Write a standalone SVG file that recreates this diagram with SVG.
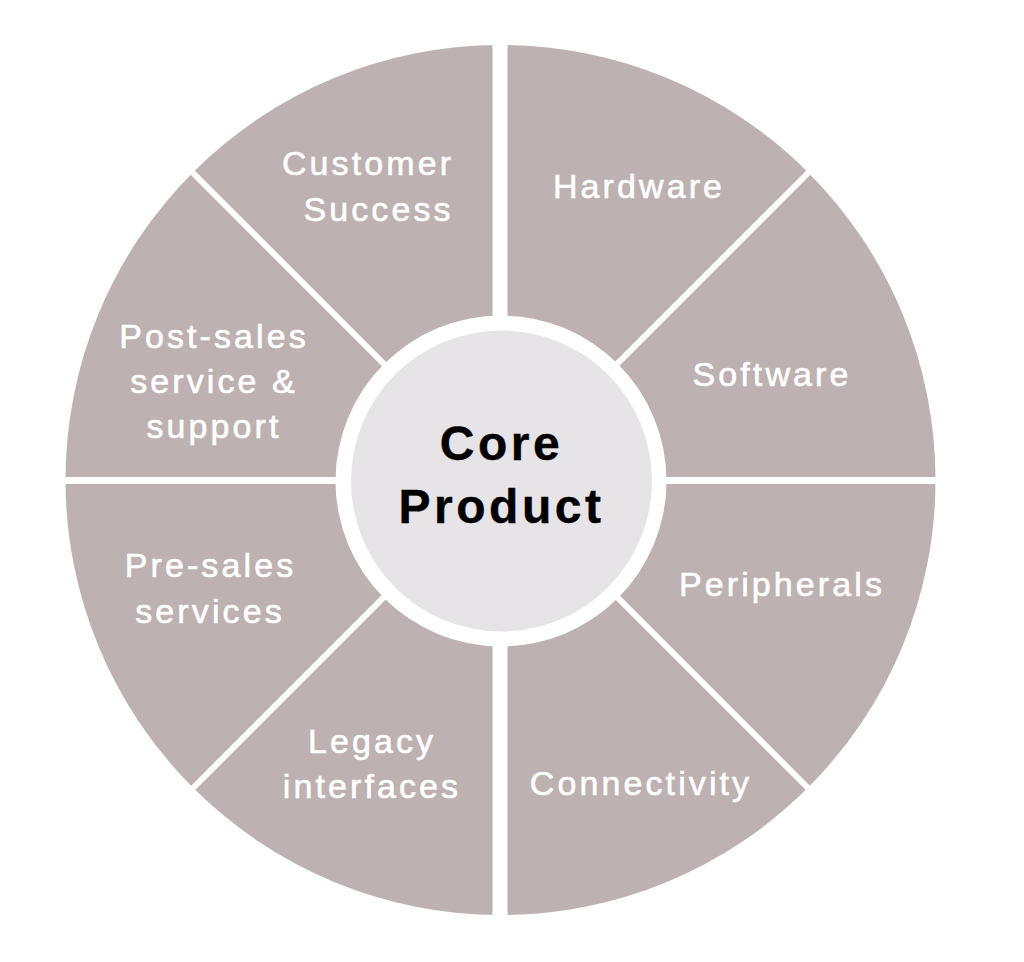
<svg xmlns="http://www.w3.org/2000/svg" width="1024" height="962" viewBox="0 0 1024 962">
<style>
.wedge{fill:#bdb1b1;}
.lbl{font-family:"Liberation Sans",Arial,sans-serif;font-size:34px;fill:#ffffff;stroke:#ffffff;stroke-width:0.6px;letter-spacing:3.1px;text-anchor:middle;}
.core{font-family:"Liberation Sans",Arial,sans-serif;font-size:48px;font-weight:bold;fill:#000000;stroke:#000000;stroke-width:0.4px;letter-spacing:3.5px;text-anchor:middle;}
.sep{stroke:#ffffff;fill:none;}
</style>
<rect width="1024" height="962" fill="#ffffff"/>
<g id="hardware">
<path class="wedge" d="M500.5,480 L500.5,45 A435,435 0 0 1 808.1,172.4 Z"/>
<text class="lbl" x="639" y="198">Hardware</text>
</g>
<g id="software">
<path class="wedge" d="M500.5,480 L808.1,172.4 A435,435 0 0 1 935.5,480 Z"/>
<text class="lbl" x="772" y="386">Software</text>
</g>
<g id="peripherals">
<path class="wedge" d="M500.5,480 L935.5,480 A435,435 0 0 1 808.1,787.6 Z"/>
<text class="lbl" x="782" y="596">Peripherals</text>
</g>
<g id="connectivity">
<path class="wedge" d="M500.5,480 L808.1,787.6 A435,435 0 0 1 500.5,915 Z"/>
<text class="lbl" x="641" y="795">Connectivity</text>
</g>
<g id="legacy-interfaces">
<path class="wedge" d="M500.5,480 L500.5,915 A435,435 0 0 1 192.9,787.6 Z"/>
<text class="lbl" x="372" y="753">Legacy</text>
<text class="lbl" x="372" y="798">interfaces</text>
</g>
<g id="pre-sales-services">
<path class="wedge" d="M500.5,480 L192.9,787.6 A435,435 0 0 1 65.5,480 Z"/>
<text class="lbl" x="210.5" y="577">Pre-sales</text>
<text class="lbl" x="210" y="623">services</text>
</g>
<g id="post-sales-service-support">
<path class="wedge" d="M500.5,480 L65.5,480 A435,435 0 0 1 192.9,172.4 Z"/>
<text class="lbl" x="214" y="348">Post-sales</text>
<text class="lbl" x="214" y="393">service &amp;</text>
<text class="lbl" x="214" y="438">support</text>
</g>
<g id="customer-success">
<path class="wedge" d="M500.5,480 L192.9,172.4 A435,435 0 0 1 500.5,45 Z"/>
<text class="lbl" x="368" y="175">Customer</text>
<text class="lbl" x="378.5" y="221">Success</text>
</g>
<g id="separators">
<line class="sep" x1="500" y1="30" x2="500" y2="930" stroke-width="15"/>
<line class="sep" x1="50" y1="480.5" x2="950" y2="480.5" stroke-width="7"/>
<line class="sep" x1="182" y1="162" x2="819" y2="799" stroke-width="6"/>
<line class="sep" x1="819" y1="162" x2="182" y2="799" stroke-width="6"/>
</g>
<g id="core-product">
<circle cx="501" cy="481" r="165.5" fill="#ffffff"/>
<circle cx="501.5" cy="481" r="150.5" fill="#e6e4e6"/>
<text class="core" x="501.5" y="460">Core</text>
<text class="core" x="501.5" y="523">Product</text>
</g>
</svg>
